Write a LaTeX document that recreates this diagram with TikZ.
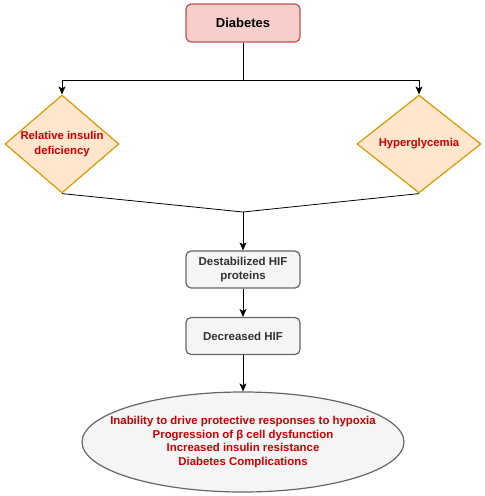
\documentclass[tikz,border=0pt]{standalone}
\usepackage{fontspec}
\setmainfont{Liberation Sans}
\usetikzlibrary{shapes.geometric,arrows.meta}
\definecolor{redfill}{HTML}{F8CECC}
\definecolor{reddraw}{HTML}{B85450}
\definecolor{orangefill}{HTML}{FFE6CC}
\definecolor{orangedraw}{HTML}{D79B00}
\definecolor{greyfill}{HTML}{F5F5F5}
\definecolor{greydraw}{HTML}{666666}
\definecolor{greytext}{HTML}{333333}
\definecolor{redtext}{HTML}{CC0000}
\begin{document}
\begin{tikzpicture}
    [
    x=1pt,y=-1pt,
    top/.style={rectangle,rounded corners=5pt,draw=reddraw,fill=redfill,line width=1.2pt,minimum width=114pt,minimum height=38pt,font=\fontsize{13}{15}\selectfont\bfseries},
    cause/.style={diamond,draw=orangedraw,fill=orangefill,line width=1.2pt,inner sep=0pt,align=center,text=redtext,font=\fontsize{11.3}{14.5}\selectfont\bfseries},
    stepbox/.style={rectangle,rounded corners=5pt,draw=greydraw,fill=greyfill,line width=1.2pt,minimum width=114pt,minimum height=37pt,align=center,text=greytext,font=\fontsize{11.5}{14}\selectfont\bfseries},
    result/.style={ellipse,draw=greydraw,fill=greyfill,line width=1.2pt,inner xsep=-24pt,inner ysep=0pt,minimum width=322pt,minimum height=100pt,align=center,text=redtext,font=\fontsize{11.4}{13.5}\selectfont\bfseries},
    link/.style={line width=0.8pt},
    tip/.style={-{Stealth[length=8pt,width=7pt,inset=2pt]}}
    ]
    \useasboundingbox (0,0) rectangle (485,496);
    \node (diab) at (243,23) [top] {Diabetes};
    \node (rel) at (62,144) [cause,aspect=1.163,minimum width=114pt,minimum height=98pt] {Relative insulin\\deficiency};
    \node (hyp) at (419,144) [cause,aspect=1.265,minimum width=124pt,minimum height=98pt] {Hyperglycemia};
    \node (destab) at (243,269.5) [stepbox] {Destabilized HIF\\proteins};
    \node (dec) at (243,336) [stepbox] {Decreased HIF};
    \node (comp) at (243,442) [result] {Inability to drive protective responses to hypoxia\\Progression of β cell dysfunction\\Increased insulin resistance\\Diabetes Complications};
    \coordinate (split) at (243,80);
    \coordinate (join) at (243,212);
    \draw [link] (diab) to (split);
    \draw [link,tip] (split) -| (rel.north);
    \draw [link,tip] (split) -| (hyp.north);
    \draw [link] (rel.south) to (join);
    \draw [link] (hyp.south) to (join);
    \draw [link,tip] (join) to (destab);
    \draw [link,tip] (destab) to (dec);
    \draw [link,tip] (dec) to (comp);
  \end{tikzpicture}
\end{document}
